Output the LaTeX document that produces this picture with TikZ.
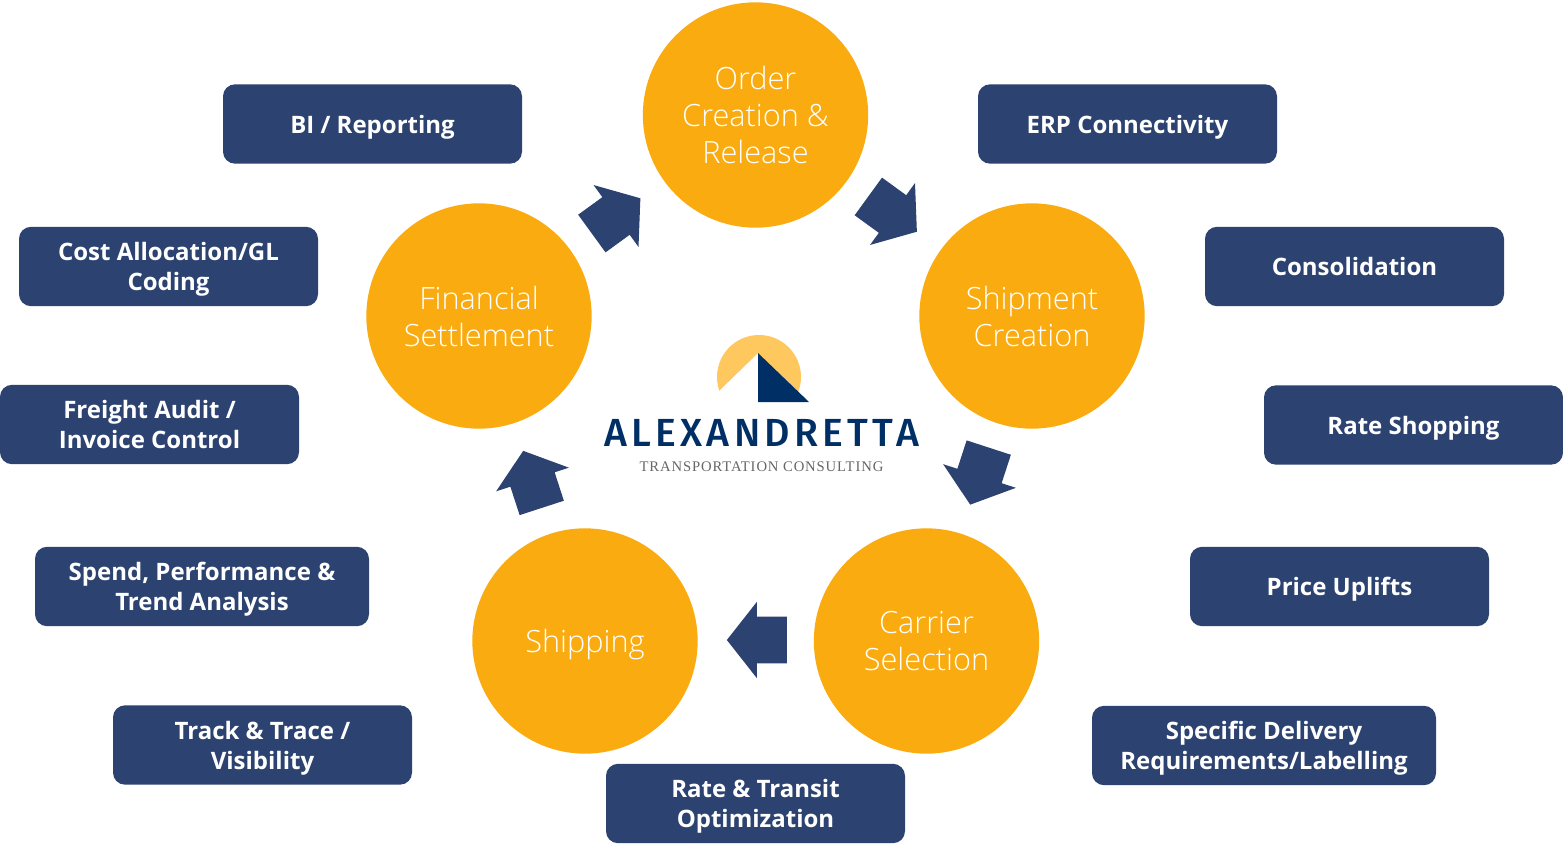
\documentclass[tikz,border=0pt]{standalone}
\usepackage{fontspec}
\usetikzlibrary{shapes.arrows}
\setmainfont{Open Sans}
\newfontfamily\circfont{Open Sans Light}
\newfontfamily\logofont[LetterSpace=11]{Fira Sans Medium}
\newfontfamily\subfont[LetterSpace=6]{Liberation Serif}
\definecolor{stepfill}{HTML}{F9AB10}
\definecolor{boxfill}{HTML}{2C4270}
\definecolor{logopale}{HTML}{FFC85F}
\definecolor{logonavy}{HTML}{002F66}
\definecolor{logogrey}{HTML}{666666}
\newcommand{\ls}{\rule[-4.5pt]{0pt}{22.5pt}}
\tikzset{
  stepcircle/.style={circle,fill=stepfill,text=white,minimum size=169pt,inner sep=0pt,align=center,
    font=\circfont\fontsize{23}{27.75}\selectfont},
  featbox/.style={rounded corners=9pt,fill=boxfill,text=white,minimum width=224.25pt,minimum height=59.5pt,
    inner sep=0pt,align=center,font=\bfseries\fontsize{18}{22.5}\selectfont},
  flowarrow/.style={single arrow,fill=boxfill,inner sep=0pt,outer sep=0pt,text height=34.5pt,text depth=0pt,
    minimum height=45pt,single arrow head extend=11.25pt,single arrow tip angle=103.6,single arrow head indent=0pt}
}
\begin{document}
\begin{tikzpicture}[x=0.75pt,y=-0.75pt]
\useasboundingbox (0,0) rectangle (1563,849);
% process steps
\node[stepcircle] (order) at (755.5,115) {Order\\Creation \&\\Release};
\node[stepcircle] (shipment) at (1032,316) {Shipment\\Creation};
\node[stepcircle] (carrier) at (926.5,641) {Carrier\\Selection};
\node[stepcircle] (shipping) at (585,641) {\raisebox{0pt}[\height][0pt]{Shipping}};
\node[stepcircle] (financial) at (479,316) {Financial\\Settlement};
% block arrows between steps
\node[flowarrow,rotate=-36] (orderarrow) at (885.2,208.7) {};
\node[flowarrow,rotate=-108] (shipmentarrow) at (982.3,467.4) {};
\node[flowarrow,rotate=180] (carrierarrow) at (766,640) {};
\node[flowarrow,rotate=108] (shippingarrow) at (535.3,488.1) {};
\node[flowarrow,rotate=36] (financialarrow) at (608.7,221.3) {};
% feature boxes
\node[featbox] (bi) at (372.5,124) {\ls BI / Reporting};
\node[featbox] (erp) at (1127.5,124) {\ls ERP Connectivity};
\node[featbox] (cost) at (168.5,266.5) {\ls Cost Allocation/GL\\\ls Coding};
\node[featbox] (consolidation) at (1354.5,266.5) {\ls Consolidation};
\node[featbox] (freight) at (149.5,424.5) {\ls Freight Audit /\\\ls Invoice Control};
\node[featbox] (shopping) at (1413.5,425) {\ls Rate Shopping};
\node[featbox,minimum width=250.5pt] (spend) at (202,586.5) {\ls Spend, Performance \&\\\ls Trend Analysis};
\node[featbox] (uplifts) at (1339.5,586.5) {\ls Price Uplifts};
\node[featbox] (track) at (262.5,745) {\ls Track \& Trace /\\\ls Visibility};
\node[featbox,minimum width=258pt] (delivery) at (1264,745.5) {\ls Specific Delivery\\\ls Requirements/Labelling};
\node[featbox] (transit) at (755.5,803.5) {\ls Rate \& Transit\\\ls Optimization};
% logo
\begin{scope}
\clip (759,377) circle (42);
\fill[logopale] (758,353) -- (719,391) -- (700,400) -- (700,320) -- (820,320) -- (820,412.6) -- cycle;
\end{scope}
\fill[logonavy] (758,353) -- (758,402) -- (809,402) -- cycle;
\node[text=logonavy,inner sep=0pt,font=\logofont\fontsize{29.4}{30}\selectfont] (logoname) at (761.5,432.5) {ALEXANDRETTA};
\node[text=logogrey,inner sep=0pt,font=\subfont\fontsize{11}{12}\selectfont] (logosub) at (761.5,467) {TRANSPORTATION CONSULTING};
\end{tikzpicture}
\end{document}
